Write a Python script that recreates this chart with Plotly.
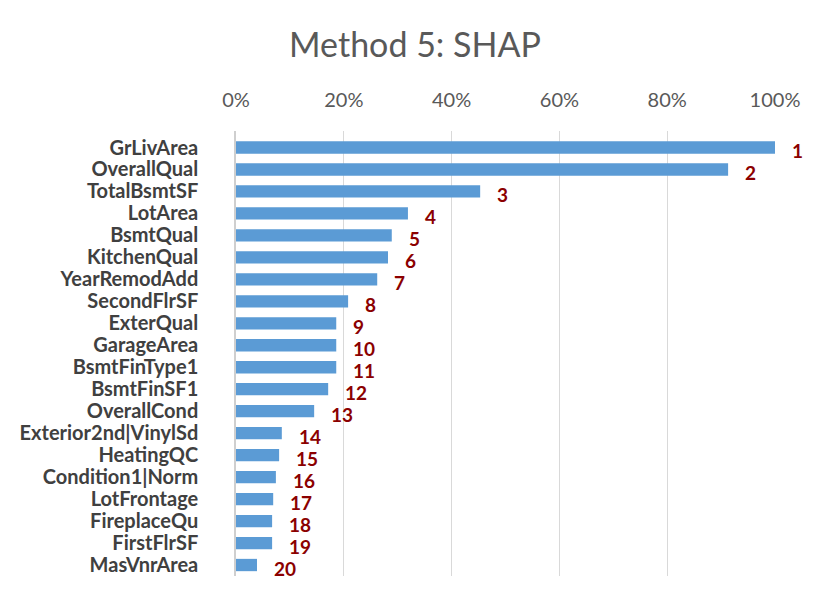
import plotly.graph_objects as go

features = ["GrLivArea", "OverallQual", "TotalBsmtSF", "LotArea", "BsmtQual",
            "KitchenQual", "YearRemodAdd", "SecondFlrSF", "ExterQual", "GarageArea",
            "BsmtFinType1", "BsmtFinSF1", "OverallCond", "Exterior2nd|VinylSd",
            "HeatingQC", "Condition1|Norm", "LotFrontage", "FireplaceQu",
            "FirstFlrSF", "MasVnrArea"]
importance = [1.000, 0.913, 0.453, 0.319, 0.289, 0.282, 0.262, 0.208, 0.186, 0.186,
              0.186, 0.171, 0.145, 0.085, 0.080, 0.074, 0.069, 0.067, 0.067, 0.039]
ranks = [str(i) for i in range(1, 21)]
tick_vals = [0, 0.2, 0.4, 0.6, 0.8, 1.0]
tick_text = ["0%", "20%", "40%", "60%", "80%", "100%"]

fig = go.Figure()
fig.add_trace(go.Bar(
    x=importance, y=features, orientation="h",
    marker=dict(color="#5B9BD5", line=dict(width=0)),
    width=0.56, hoverinfo="x+y",
))

for f, v, r in zip(features, importance, ranks):
    fig.add_annotation(x=v, y=f, text=r, xanchor="left", xshift=15, yshift=-3,
                       showarrow=False,
                       font=dict(family="Lato", size=19, color="#8B0000", weight="bold"))

# the page body adds an 8px offset, so margins are shifted to compensate
fig.update_layout(
    width=831, height=605,
    paper_bgcolor="white", plot_bgcolor="white",
    margin=dict(l=228, r=64, t=123, b=37, autoexpand=False),
    title=dict(text="Method 5: SHAP", x=(415 - 8) / 831, xanchor="center", xref="container",
               y=1 - 37 / 605, yref="container", yanchor="middle",
               font=dict(family="Lato", size=34, color="#595959")),
    showlegend=False,
    bargap=0.44,
)
fig.update_xaxes(
    side="top", range=[0, 1.0], tickvals=tick_vals, ticktext=tick_text,
    showgrid=True, gridcolor="#D9D9D9", gridwidth=1.3,
    zeroline=False, showline=False, ticks="", ticklabelstandoff=19,
    tickfont=dict(family="Lato", size=20, color="#595959"),
    automargin=False, fixedrange=True,
)
fig.update_yaxes(
    autorange="reversed", showgrid=False, zeroline=False,
    tickmode="array", tickvals=features, ticktext=features,
    showline=True, linecolor="#CFCFCF", linewidth=1.5,
    ticks="", ticklabelstandoff=32, automargin=False,
    tickfont=dict(family="Lato", size=20, color="#404040", weight="bold"),
)

fig.write_html("out.html")
